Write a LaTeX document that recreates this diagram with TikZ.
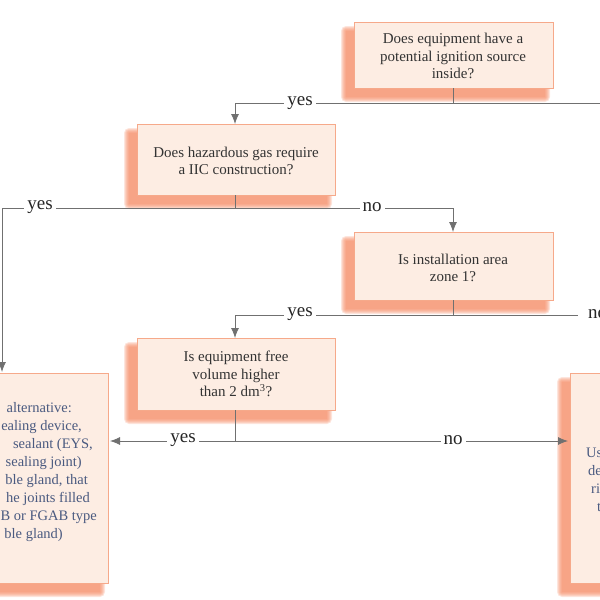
\documentclass[tikz,border=0pt]{standalone}
\usepackage{fontspec}
\setmainfont{Liberation Serif}
\usetikzlibrary{arrows.meta}
\definecolor{boxfill}{HTML}{FDEDE3}
\definecolor{boxline}{HTML}{F6A98A}
\definecolor{shad}{HTML}{F58A63}
\definecolor{ln}{HTML}{707070}
\definecolor{bluetxt}{HTML}{4A5A80}
\newcommand\mybox[4]{%
  \foreach \r in {5,4,3,2,1,0}{%
    \fill[shad,opacity=0.22,rounded corners=\r pt] ({#1-8-\r},{#2+9-\r}) rectangle ({#3-8+\r},{#4+9+\r});}
  \path[draw=boxline,fill=boxfill,line width=0.8pt] (#1,#2) rectangle (#3,#4);}
\begin{document}
\begin{tikzpicture}[x=1pt,y=-1pt,
  txt/.style={align=center,font=\fontsize{15}{17.5}\selectfont,text=black!80},
  lab/.style={fill=white,inner sep=3pt,font=\fontsize{19}{21}\selectfont,text=black!85},
  frag/.style={font=\fontsize{14.5}{17}\selectfont,text=bluetxt,inner sep=0pt},
  con/.style={draw=ln,line width=0.8pt},
  arr/.style={con,-{Latex[length=10pt,width=8pt]}}]
\useasboundingbox (0,0) rectangle (600,600);
\clip (0,0) rectangle (600,600);
% boxes
\mybox{354}{22}{553}{88}
\node[txt] (b1) at (453,56) {Does equipment have a\\potential ignition source\\inside?};
\mybox{137}{124}{335}{195}
\node[txt] (b2) at (236,161) {Does hazardous gas require\\a IIC construction?};
\mybox{354}{232}{553}{300}
\node[txt] (b3) at (453,268) {Is installation area\\zone 1?};
\mybox{137}{338}{335}{410}
\node[txt] (b4) at (236,374) {Is equipment free\\volume higher\\than 2 dm\textsuperscript{3}?};
\mybox{-40}{373}{108}{583}
\mybox{570}{373}{700}{583}
% left fragments
\node[frag,anchor=base east] (l1) at (72,412) {alternative:};
\node[frag,anchor=base east] (l2) at (82,430) {ealing device,};
\node[frag,anchor=base east] (l3) at (93,448) {sealant (EYS,};
\node[frag,anchor=base east] (l4) at (82,466) {sealing joint)};
\node[frag,anchor=base east] (l5) at (88,484) {ble gland, that};
\node[frag,anchor=base east] (l6) at (90,502) {he joints filled};
\node[frag,anchor=base east] (l7) at (97,520) {B or FGAB type};
\node[frag,anchor=base east] (l8) at (63,538) {ble gland)};
% right fragments
\node[frag,anchor=base west] (r1) at (586,457) {Us};
\node[frag,anchor=base west] (r2) at (588,475) {de};
\node[frag,anchor=base west] (r3) at (591,493) {ri};
\node[frag,anchor=base west] (r4) at (597,511) {t};
% connectors
\coordinate (j1) at (453,103);
\coordinate (j1l) at (235,103);
\coordinate (j1r) at (600,103);
\draw[con] (453,88) -- (j1);
\draw[con] (j1l) -- (j1r);
\draw[arr] (j1l) -- (235,124);
\node[lab] (y1) at (300,103) {yes};
\coordinate (j2) at (235,208);
\draw[con] (235,195) -- (j2);
\coordinate (j2l) at (2,208);
\coordinate (j2r) at (453,208);
\draw[con] (j2l) -- (j2r);
\draw[arr] (j2r) -- (453,232);
\draw[arr] (j2l) -- (2,372);
\node[lab] (y2) at (40,207) {yes};
\node[lab] (n2) at (372,207) {no};
\coordinate (j3) at (453,315);
\draw[con] (453,300) -- (j3);
\coordinate (j3l) at (235,315);
\draw[con] (j3l) -- (578,315);
\draw[arr] (j3l) -- (235,338);
\node[lab] (y3) at (300,314) {yes};
\node[lab,anchor=west] (n3) at (585,314) {no};
\coordinate (j4) at (235,441);
\draw[con] (235,410) -- (j4);
\draw[arr] (j4) -- (110,441);
\draw[arr] (j4) -- (568,441);
\node[lab] (y4) at (183,440) {yes};
\node[lab] (n4) at (453,440) {no};
\end{tikzpicture}
\end{document}
